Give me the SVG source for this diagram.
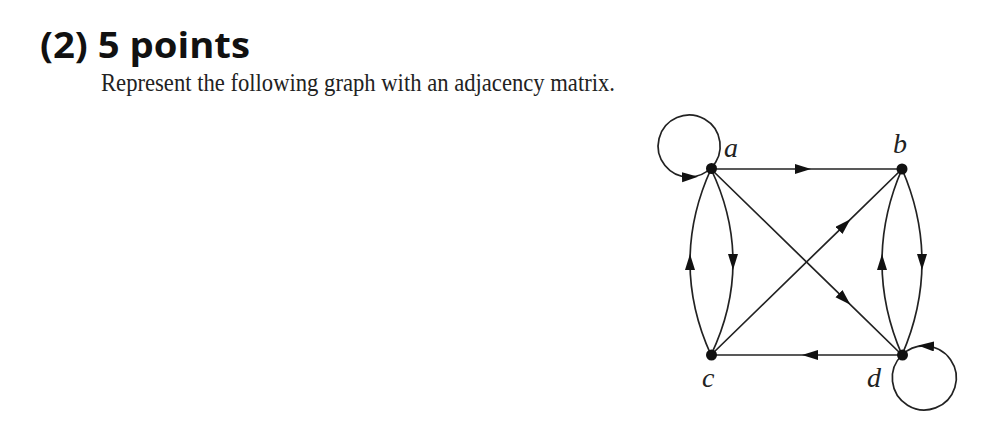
<svg xmlns="http://www.w3.org/2000/svg" width="986" height="432" viewBox="0 0 986 432">
<defs>
<style>
.title{font-family:"Open Sans","Liberation Sans",sans-serif;font-weight:bold;font-size:35px;fill:#111}
.sub{font-family:"Liberation Serif","Times New Roman",serif;font-size:25px;fill:#222}
.lbl{font-family:"Liberation Serif","Times New Roman",serif;font-style:italic;font-size:28px;fill:#222}
.edge{fill:none;stroke:#222;stroke-width:1.7;marker-mid:url(#arr)}
.dot{fill:#111}
</style>
<marker id="arr" markerUnits="userSpaceOnUse" markerWidth="17" markerHeight="11" refX="8" refY="5" orient="auto">
<path d="M0,0 L16,5 L0,10 z" fill="#111"/>
</marker>
</defs>
<rect width="986" height="432" fill="#fff"/>
<text class="title" x="40" y="58" textLength="210" lengthAdjust="spacingAndGlyphs">(2) 5 points</text>
<text class="sub" x="101" y="91" textLength="514" lengthAdjust="spacingAndGlyphs">Represent the following graph with an adjacency matrix.</text>
<g id="connectors">
<path class="edge" d="M711,168 A31,31 0 1 0 690,177 A31,31 0 0 0 711,168"/>
<path class="edge" d="M711,169 L803,169 L902,169"/>
<path class="edge" d="M711,169 L844.7,299.2 L902,355"/>
<path class="edge" d="M711,355 L844.7,224.8 L902,169"/>
<path class="edge" d="M902,355 L810,355 L711,355"/>
<path class="edge" d="M711,169 Q733,215 733,262 Q733,309 711,355"/>
<path class="edge" d="M711,355 Q690,309 690,262 Q690,215 711,169"/>
<path class="edge" d="M902,169 Q922,215 922,262 Q922,309 902,355"/>
<path class="edge" d="M902,355 Q882,309 882,262 Q882,215 902,169"/>
<path class="edge" d="M902,355 A32,32 0 1 0 926,346 A32,32 0 0 0 902,355"/>
</g>
<g id="node-a"><circle class="dot" cx="711.5" cy="168.5" r="5.5"/><text class="lbl" x="724" y="157">a</text></g>
<g id="node-b"><circle class="dot" cx="902" cy="169" r="5.5"/><text class="lbl" x="893" y="153">b</text></g>
<g id="node-c"><circle class="dot" cx="711.5" cy="355" r="5.5"/><text class="lbl" x="702" y="387">c</text></g>
<g id="node-d"><circle class="dot" cx="902.5" cy="355" r="5.5"/><text class="lbl" x="867" y="387">d</text></g>
</svg>
